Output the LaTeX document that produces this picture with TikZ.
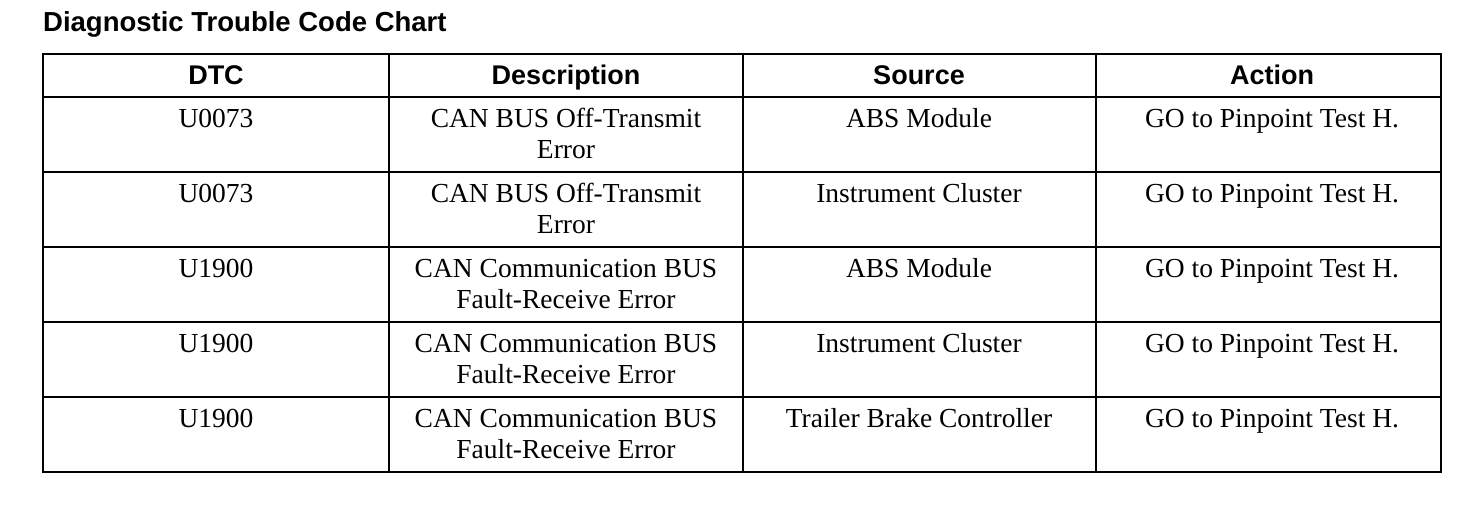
\documentclass[tikz,border=0pt]{standalone}
\usepackage{fontspec}
\setmainfont{Liberation Serif}
\newfontfamily\hdfont{Liberation Sans}
\newcommand{\fl}{\rule{0pt}{21pt}}
\begin{document}
\begin{tikzpicture}[x=1pt,y=-1pt,
  cell/.style={anchor=north,align=center,font=\fontsize{27.5}{31}\selectfont,inner sep=0pt},
  head/.style={anchor=base,font=\hdfont\bfseries\fontsize{27}{30}\selectfont,inner sep=0pt}]
\useasboundingbox[fill=white] (0,0) rectangle (1472,508);
\node[anchor=base west,font=\hdfont\bfseries\fontsize{27.5}{30}\selectfont,inner sep=0pt] (title) at (43,32) {Diagnostic Trouble Code Chart};
\draw[line width=2pt] (43,54) rectangle (1441,472);
\draw[line width=1.2pt] (43,97) -- (1441,97);
\foreach \y in {172,247,322,397} \draw[line width=1.2pt] (43,\y) -- (1441,\y);
\foreach \x in {389,743,1096} \draw[line width=1.2pt] (\x,54) -- (\x,472);
\node[head] (h1) at (216,85) {DTC};
\node[head] (h2) at (566,85) {Description};
\node[head] (h3) at (919,85) {Source};
\node[head] (h4) at (1272,85) {Action};
\foreach \i/\t/\code/\desc/\src in {
 1/97/U0073/{\fl CAN BUS Off-Transmit\\Error}/ABS Module,
 2/172/U0073/{\fl CAN BUS Off-Transmit\\Error}/Instrument Cluster,
 3/247/U1900/{\fl CAN Communication BUS\\Fault-Receive Error}/ABS Module,
 4/322/U1900/{\fl CAN Communication BUS\\Fault-Receive Error}/Instrument Cluster,
 5/397/U1900/{\fl CAN Communication BUS\\Fault-Receive Error}/Trailer Brake Controller}{
 \node[cell] (c\i a) at (216,\t+9) {\fl\code};
 \node[cell] (c\i b) at (566,\t+9) {\desc};
 \node[cell] (c\i c) at (919,\t+9) {\fl\src};
 \node[cell] (c\i d) at (1272,\t+9) {\fl GO to Pinpoint Test H.};
}
\end{tikzpicture}
\end{document}
